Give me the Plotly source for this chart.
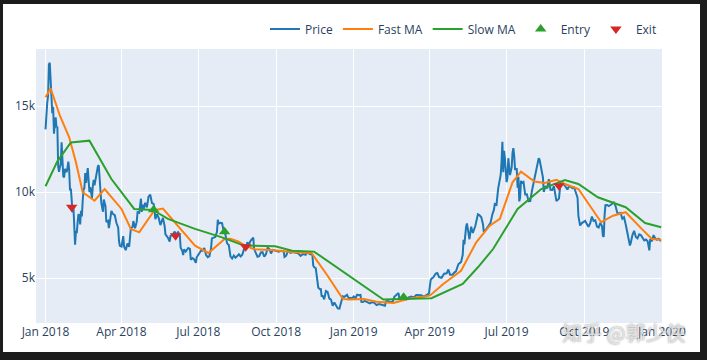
import plotly.graph_objects as go

# ---------------- data ----------------
price_pts = """2018-01-01 13657,2018-01-02 14982,2018-01-03 15201,2018-01-04 15599,2018-01-05 17430,2018-01-06 17527,
2018-01-07 16477,2018-01-08 15170,2018-01-09 14595,2018-01-10 14973,2018-01-11 13405,2018-01-12 13980,2018-01-13 14360,
2018-01-14 13772,2018-01-15 13819,2018-01-16 11490,2018-01-17 11188,2018-01-18 11474,2018-01-19 11607,2018-01-20 12899,
2018-01-21 11600,2018-01-22 10931,2018-01-23 10868,2018-01-24 11359,2018-01-25 11259,2018-01-26 11171,2018-01-27 11441,
2018-01-28 11786,2018-01-29 11296,2018-01-30 10106,2018-01-31 10221,2018-02-01 9170,2018-02-02 8830,2018-02-03 9174,
2018-02-04 8277,2018-02-05 6955,2018-02-06 7754,2018-02-07 7621,2018-02-08 8265,2018-02-09 8736,2018-02-10 8621,
2018-02-11 8129,2018-02-12 8926,2018-02-13 8598,2018-02-14 9494,2018-02-15 10166,2018-02-16 10233,2018-02-17 11112,
2018-02-18 10551,2018-02-19 11225,2018-02-20 11403,2018-02-21 10690,2018-02-22 10005,2018-02-23 10301,2018-02-24 9813,
2018-02-25 9664,2018-02-26 10366,2018-02-27 10725,2018-02-28 10397,2018-03-02 11086,2018-03-04 11512,2018-03-05 11573,
2018-03-06 10779,2018-03-07 9965,2018-03-08 9395,2018-03-10 8866,2018-03-11 9578,2018-03-13 9194,2018-03-14 8270,
2018-03-16 8338,2018-03-17 7916,2018-03-18 8223,2018-03-20 8913,2018-03-22 8728,2018-03-24 8668,2018-03-26 8209,
2018-03-28 7954,2018-03-29 7165,2018-03-30 6891,2018-04-01 6844,2018-04-03 7456,2018-04-04 6853,2018-04-06 6636,
2018-04-08 7023,2018-04-10 6834,2018-04-12 7889,2018-04-14 7986,2018-04-15 8329,2018-04-17 7902,2018-04-19 8294,
2018-04-20 8845,2018-04-22 8802,2018-04-24 9627,2018-04-25 8864,2018-04-26 9279,2018-04-27 8979,2018-04-29 9392,
2018-05-01 9119,2018-05-03 9744,2018-05-05 9859,2018-05-07 9373,2018-05-09 9325,2018-05-10 9043,2018-05-11 8441,
2018-05-13 8723,2018-05-15 8510,2018-05-17 8094,2018-05-20 8513,2018-05-22 8041,2018-05-23 7557,2018-05-26 7355,
2018-05-28 7135,2018-05-29 7472,2018-05-31 7494,2018-06-03 7720,2018-06-04 7514,2018-06-07 7678,2018-06-09 7531,
2018-06-10 6786,2018-06-12 6582,2018-06-13 6349,2018-06-14 6675,2018-06-16 6550,2018-06-19 6760,2018-06-21 6711,
2018-06-22 6083,2018-06-24 6173,2018-06-26 6093,2018-06-28 5903,2018-06-29 6218,2018-07-01 6392,2018-07-04 6600,
2018-07-06 6600,2018-07-08 6760,2018-07-10 6360,2018-07-12 6230,2018-07-14 6280,2018-07-16 6740,2018-07-17 7320,
2018-07-19 7380,2018-07-21 7400,2018-07-23 7700,2018-07-24 8400,2018-07-25 8170,2018-07-27 8230,2018-07-29 8210,
2018-07-31 7730,2018-08-02 7540,2018-08-04 7030,2018-08-06 6930,2018-08-08 6280,2018-08-10 6150,2018-08-12 6320,
2018-08-14 6190,2018-08-16 6300,2018-08-18 6390,2018-08-20 6270,2018-08-22 6370,2018-08-24 6690,2018-08-26 6710,
2018-08-28 7090,2018-08-30 6980,2018-09-01 7190,2018-09-03 7280,2018-09-04 7360,2018-09-05 6700,2018-09-07 6450,
2018-09-09 6250,2018-09-11 6280,2018-09-13 6500,2018-09-15 6520,2018-09-17 6260,2018-09-19 6390,2018-09-21 6770,
2018-09-23 6710,2018-09-25 6440,2018-09-27 6650,2018-09-29 6610,2018-10-01 6590,2018-10-04 6550,2018-10-07 6600,
2018-10-10 6560,2018-10-11 6240,2018-10-13 6310,2018-10-15 6610,2018-10-18 6480,2018-10-21 6520,2018-10-24 6500,
2018-10-27 6460,2018-10-30 6300,2018-11-02 6410,2018-11-05 6370,2018-11-07 6520,2018-11-10 6400,2018-11-13 6360,
2018-11-14 5740,2018-11-15 5650,2018-11-17 5580,2018-11-19 4870,2018-11-20 4450,2018-11-22 4360,2018-11-23 4370,
2018-11-24 3930,2018-11-25 4010,2018-11-27 3780,2018-11-29 4260,2018-12-01 4210,2018-12-03 3830,2018-12-05 3760,
2018-12-07 3400,2018-12-09 3590,2018-12-11 3420,2018-12-13 3250,2018-12-15 3240,2018-12-17 3550,2018-12-19 3950,
2018-12-21 3920,2018-12-23 4000,2018-12-24 4040,2018-12-26 3840,2018-12-28 3860,2018-12-30 3830,2019-01-01 3940,
2019-01-03 3840,2019-01-05 4040,2019-01-07 4010,2019-01-09 4030,2019-01-10 3630,2019-01-12 3620,2019-01-14 3690,
2019-01-16 3640,2019-01-18 3600,2019-01-20 3540,2019-01-22 3600,2019-01-25 3590,2019-01-28 3440,2019-01-30 3490,
2019-02-01 3490,2019-02-04 3430,2019-02-07 3400,2019-02-08 3650,2019-02-10 3680,2019-02-13 3620,2019-02-16 3630,
2019-02-18 3920,2019-02-20 3990,2019-02-23 4140,2019-02-24 3810,2019-02-27 3840,2019-03-01 3860,2019-03-04 3770,
2019-03-07 3890,2019-03-10 3940,2019-03-13 3880,2019-03-16 4030,2019-03-19 4030,2019-03-22 4020,2019-03-25 3930,
2019-03-28 4040,2019-03-31 4110,2019-04-02 4880,2019-04-03 4970,2019-04-05 5040,2019-04-08 5270,2019-04-10 5310,
2019-04-12 5070,2019-04-15 5030,2019-04-18 5270,2019-04-21 5290,2019-04-23 5510,2019-04-25 5210,2019-04-28 5210,
2019-04-30 5330,2019-05-02 5400,2019-05-05 5830,2019-05-08 5940,2019-05-10 6350,2019-05-11 7230,2019-05-12 6970,
2019-05-13 7810,2019-05-14 7990,2019-05-15 8190,2019-05-17 7350,2019-05-18 7270,2019-05-20 8000,2019-05-22 7630,
2019-05-25 8050,2019-05-28 8720,2019-05-30 8660,2019-06-01 8550,2019-06-03 8150,2019-06-04 7690,2019-06-06 7790,
2019-06-08 7950,2019-06-10 8060,2019-06-12 8230,2019-06-14 8690,2019-06-16 8990,2019-06-17 9320,2019-06-19 9270,
2019-06-21 10210,2019-06-23 10860,2019-06-24 11020,2019-06-25 11780,2019-06-26 12930,2019-06-27 11160,2019-06-28 12410,
2019-06-29 11940,2019-07-01 10590,2019-07-02 10830,2019-07-03 11980,2019-07-05 11000,2019-07-07 11450,2019-07-08 12290,
2019-07-09 12570,2019-07-10 12100,2019-07-11 11340,2019-07-13 11350,2019-07-14 10260,2019-07-15 10900,2019-07-16 9470,
2019-07-17 9690,2019-07-18 10670,2019-07-19 10530,2019-07-21 10600,2019-07-23 9870,2019-07-25 9880,2019-07-27 9480,
2019-07-29 9490,2019-07-31 10090,2019-08-02 10530,2019-08-04 10900,2019-08-06 11470,2019-08-08 11980,2019-08-09 11900,
2019-08-11 11390,2019-08-13 10860,2019-08-14 10020,2019-08-16 10360,2019-08-18 10220,2019-08-20 10760,2019-08-22 10140,
2019-08-24 10130,2019-08-26 10350,2019-08-28 9760,2019-08-29 9490,2019-09-01 9630,2019-09-03 10600,2019-09-05 10580,
2019-09-07 10470,2019-09-09 10310,2019-09-11 10160,2019-09-13 10360,2019-09-15 10310,2019-09-17 10240,2019-09-19 10280,
2019-09-21 9990,2019-09-23 9690,2019-09-24 8620,2019-09-26 8070,2019-09-28 8210,2019-09-30 8290,2019-10-02 8340,
2019-10-04 8150,2019-10-06 7990,2019-10-08 8200,2019-10-10 8590,2019-10-12 8330,2019-10-14 8370,2019-10-16 8000,
2019-10-18 7950,2019-10-20 8220,2019-10-22 8020,2019-10-23 7470,2019-10-24 7410,2019-10-25 8660,2019-10-26 9250,
2019-10-28 9260,2019-10-30 9200,2019-11-01 9260,2019-11-03 9320,2019-11-05 9410,2019-11-07 9200,2019-11-09 8810,
2019-11-11 8760,2019-11-13 8800,2019-11-15 8460,2019-11-17 8550,2019-11-19 8140,2019-11-21 7620,2019-11-22 7290,
2019-11-24 6910,2019-11-25 7050,2019-11-27 7510,2019-11-29 7760,2019-12-01 7400,2019-12-03 7320,2019-12-05 7550,
2019-12-07 7510,2019-12-09 7340,2019-12-11 7200,2019-12-13 7250,2019-12-15 7150,2019-12-16 6880,2019-12-17 6620,
2019-12-18 7280,2019-12-20 7150,2019-12-22 7510,2019-12-24 7320,2019-12-26 7240,2019-12-28 7300,2019-12-30 7190,
2019-12-31 7190"""
price_dates = [p.split()[0] for p in price_pts.replace("\n", "").split(",")]
price_vals = [float(p.split()[1]) for p in price_pts.replace("\n", "").split(",")]

fast_dates = ["2018-01-01", "2018-01-07", "2018-01-18", "2018-01-29", "2018-02-06", "2018-02-14",
              "2018-02-28", "2018-03-12", "2018-04-01", "2018-04-12", "2018-04-22", "2018-05-01",
              "2018-05-10", "2018-05-20", "2018-06-03", "2018-06-20", "2018-06-27", "2018-07-13",
              "2018-08-01", "2018-08-08", "2018-08-17", "2018-08-26", "2018-09-05", "2018-09-25",
              "2018-10-23", "2018-11-12", "2018-12-01", "2018-12-19", "2018-12-26", "2019-01-13",
              "2019-01-28", "2019-02-17", "2019-03-09", "2019-04-01", "2019-04-17", "2019-05-08",
              "2019-05-26", "2019-06-11", "2019-06-23", "2019-07-08", "2019-07-18", "2019-08-03",
              "2019-08-15", "2019-08-29", "2019-09-08", "2019-09-24", "2019-10-21", "2019-11-04",
              "2019-11-19", "2019-12-08", "2019-12-20", "2019-12-31"]
fast_vals = [15520, 16050, 14450, 13200, 11740, 10000,
             9510, 10190, 9030, 7870, 7670, 8300,
             8960, 9050, 8260, 7285, 6900, 6470,
             7285, 7300, 7150, 6880, 6690, 6645,
             6510, 6470, 5150, 3800, 3760, 3800,
             3640, 3565, 3840, 3990, 4670, 5440,
             7090, 8060, 8450, 10580, 11200, 10620,
             10540, 10730, 10480, 10190, 8260, 8640,
             8840, 7870, 7285, 7245]

slow_dates = ["2018-01-01", "2018-01-15", "2018-01-31", "2018-02-22", "2018-03-20", "2018-04-16",
              "2018-05-08", "2018-05-26", "2018-06-27", "2018-07-29", "2018-08-24", "2018-09-30",
              "2018-10-20", "2018-11-15", "2019-02-05", "2019-04-03", "2019-05-10", "2019-05-28",
              "2019-06-15", "2019-07-14", "2019-08-11", "2019-09-08", "2019-09-24", "2019-10-17",
              "2019-11-19", "2019-12-12", "2019-12-31"]
slow_vals = [10350, 11800, 12900, 13000, 10770, 9030,
             8970, 8450, 7870, 7380, 6900, 6860,
             6600, 6550, 3760, 3840, 4670, 5640,
             6700, 9030, 10190, 10715, 10480, 9710,
             9130, 8215, 7965]

entry_dates = ["2018-05-09", "2018-08-01", "2019-03-01"]
entry_vals = [8990, 7711, 3895]
exit_dates = ["2018-02-01", "2018-06-04", "2018-08-26", "2019-09-01"]
exit_vals = [9128, 7477, 6838, 10384]

# ---------------- figure ----------------
fig = go.Figure()
fig.add_trace(go.Scatter(x=price_dates, y=price_vals, mode="lines", name="Price",
                         line=dict(color="#1f77b4", width=2)))
fig.add_trace(go.Scatter(x=fast_dates, y=fast_vals, mode="lines", name="Fast MA",
                         line=dict(color="#ff7f0e", width=2)))
fig.add_trace(go.Scatter(x=slow_dates, y=slow_vals, mode="lines", name="Slow MA",
                         line=dict(color="#2ca02c", width=2)))
fig.add_trace(go.Scatter(x=entry_dates, y=entry_vals, mode="markers", name="Entry",
                         marker=dict(symbol="triangle-up", size=10, color="#2ca02c")))
fig.add_trace(go.Scatter(x=exit_dates, y=exit_vals, mode="markers", name="Exit",
                         marker=dict(symbol="triangle-down", size=10, color="#d62728")))

# dark frame strips around the white page (paper coordinates)
frame = "#1c1c1c"
for x0, x1, y0, y1 in [(-0.2, 1.2, 1.1642, 1.25),      # top
                       (-0.2, 1.2, -0.25, -0.1058),    # bottom
                       (-0.2, -0.0527, -0.25, 1.25),   # left
                       (1.0607, 1.2, -0.25, 1.25)]:    # right
    fig.add_shape(type="rect", xref="paper", yref="paper", layer="above",
                  x0=x0, x1=x1, y0=y0, y1=y1, fillcolor=frame, line=dict(width=0))

fig.add_annotation(text="知乎 @郭少侠", xref="paper", yref="paper", x=0.939, y=-0.033,
                   showarrow=False, xanchor="center", yanchor="middle",
                   font=dict(family="Noto Sans CJK SC", size=20, color="rgba(240,240,240,0.8)",
                             shadow="0px 0px 2px #666"))

fig.update_layout(
    width=707, height=360,
    template="plotly",
    paper_bgcolor="white",
    plot_bgcolor="#E5ECF6",
    margin=dict(l=36, r=45, t=49, b=37),
    font=dict(family="Open Sans, Arial", size=12, color="#2a3f5f"),
    showlegend=True,
    legend=dict(orientation="h", x=1, xanchor="right", y=1.02, yanchor="bottom",
                bgcolor="rgba(0,0,0,0)"),
)
fig.update_xaxes(range=["2017-12-20 17:00", "2020-01-01"], dtick="M3", tickformat="%b %Y",
                 gridcolor="white", showgrid=True, zeroline=False)
fig.update_yaxes(range=[2400, 18330], dtick=5000, gridcolor="white", zeroline=False)

fig.write_html("out.html", config={"displayModeBar": False},
               post_script="document.body.style.margin='0';document.body.style.background='#1c1c1c';")
